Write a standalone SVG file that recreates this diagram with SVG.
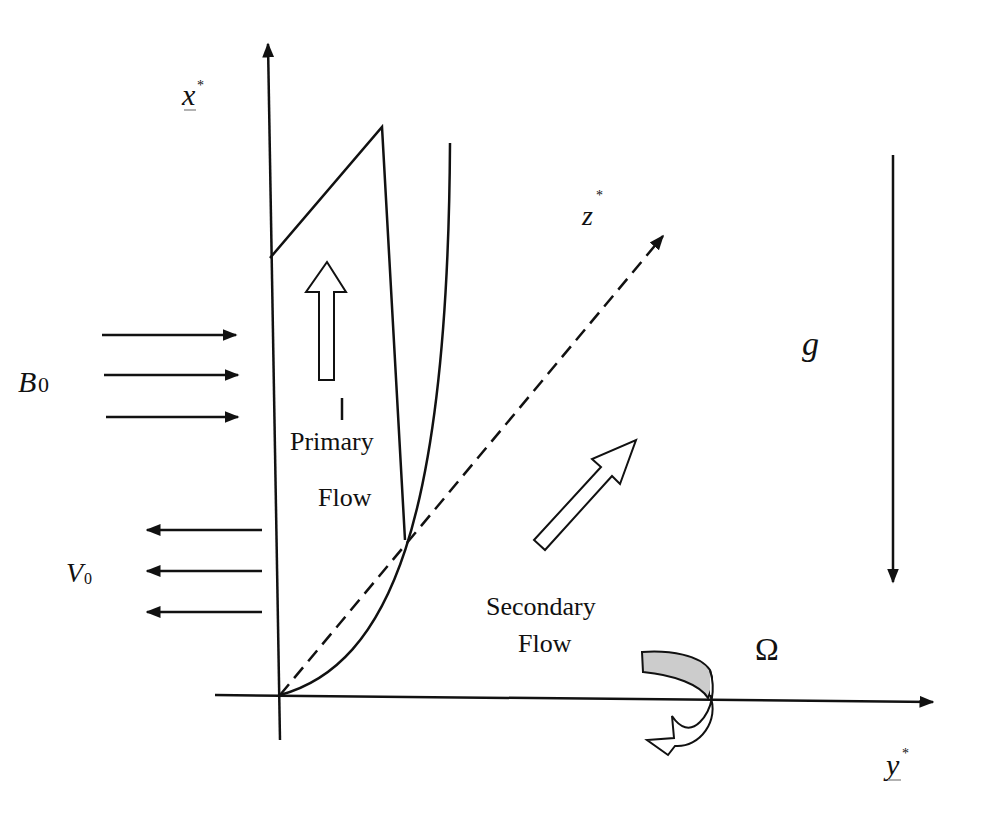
<svg xmlns="http://www.w3.org/2000/svg" width="986" height="819" viewBox="0 0 986 819">
<style>
.l{stroke:#111;stroke-width:2.5;fill:none}
.t{font-family:"Liberation Serif",serif;fill:#111}
.h{fill:#fff;stroke:#111;stroke-width:2}
</style>
<defs>
<marker id="a" viewBox="0 0 10 10" refX="9" refY="5" markerWidth="6" markerHeight="6" orient="auto" markerUnits="strokeWidth"><path d="M0,1L10,5L0,9z" fill="#111"/></marker>
</defs>
<rect width="986" height="819" fill="#fff"/>
<g id="connectors">
<path class="l" d="M280,740L268,44" marker-end="url(#a)"/>
<path class="l" d="M215,695L933,702" marker-end="url(#a)"/>
<path class="l" d="M270,258L382,127L405,540"/>
<path class="l" d="M280,695C390,665 448,520 450,143"/>
<path class="l" d="M280,695L663,236" stroke-dasharray="14,8" marker-end="url(#a)"/>
<path class="l" d="M102,335H236" marker-end="url(#a)"/>
<path class="l" d="M104,375H238" marker-end="url(#a)"/>
<path class="l" d="M106,417H238" marker-end="url(#a)"/>
<path class="l" d="M262,530H147" marker-end="url(#a)"/>
<path class="l" d="M262,571H147" marker-end="url(#a)"/>
<path class="l" d="M262,612H147" marker-end="url(#a)"/>
<path class="l" d="M893,155V582" marker-end="url(#a)"/>
<path class="l" d="M342,398V420" stroke-width="2"/>
</g>
<g id="primary-arrow"><path class="h" d="M319,380V292H306L327,262L346,292H334V380Z"/></g>
<g id="secondary-arrow"><path class="h" d="M534,540L601,467L592,459L636,440L620,484L612,476L545,550Z"/></g>
<g id="rotation">
<path d="M642,652L643,672C675,675 700,685 708,698C712,690 714,680 710,670C700,655 670,650 642,652Z" fill="#ccc" stroke="#111" stroke-width="2"/>
<path d="M710,670C716,690 712,710 700,722C690,732 680,728 672,716L674,738L647,740L668,755L675,746C700,748 720,720 710,695" fill="#fff" stroke="#111" stroke-width="2"/>
</g>
<g id="labels">
<text class="t" x="182" y="105" font-size="30" font-style="italic">x</text><text class="t" x="197" y="90" font-size="14">*</text>
<line x1="184" y1="110" x2="196" y2="110" stroke="#999" stroke-width="1.5"/>
<text class="t" x="582" y="225" font-size="28" font-style="italic" fill="#999">z</text><text class="t" x="596" y="200" font-size="14">*</text>
<text class="t" x="18" y="392" font-size="30" font-style="italic">B</text><text class="t" x="38" y="392" font-size="22">0</text>
<text class="t" x="66" y="582" font-size="28" font-style="italic">V</text><text class="t" x="84" y="584" font-size="16">0</text>
<text class="t" x="802" y="355" font-size="34" font-style="italic">g</text>
<text class="t" x="755" y="660" font-size="32">Ω</text>
<text class="t" x="886" y="775" font-size="30" font-style="italic">y</text><text class="t" x="902" y="758" font-size="14">*</text>
<line x1="888" y1="780" x2="901" y2="780" stroke="#999" stroke-width="1.5"/>
<text class="t" x="290" y="450" font-size="26">Primary</text>
<text class="t" x="318" y="506" font-size="26">Flow</text>
<text class="t" x="486" y="615" font-size="26">Secondary</text>
<text class="t" x="518" y="652" font-size="26">Flow</text>
</g>
</svg>
